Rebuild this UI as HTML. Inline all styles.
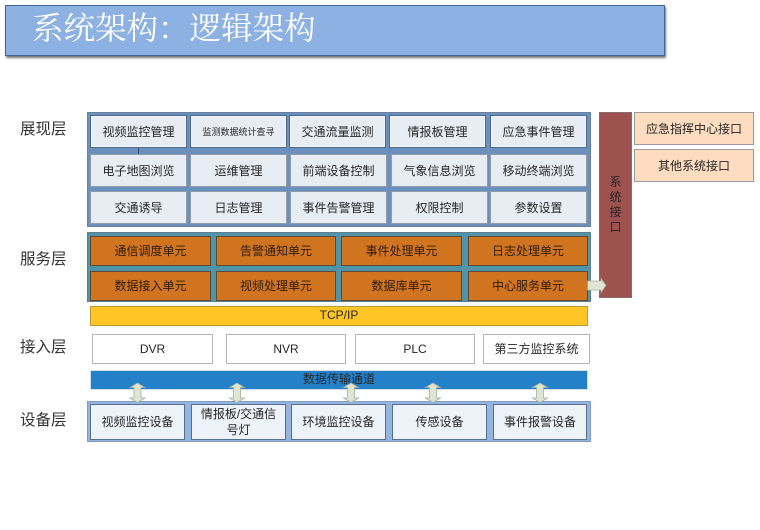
<!DOCTYPE html>
<html lang="zh">
<head>
<meta charset="utf-8">
<style>
html,body{margin:0;padding:0;background:#fff}
#p{position:relative;width:760px;height:530px;overflow:hidden;background:#fff;font-family:"Liberation Sans","Noto Sans CJK SC",sans-serif;color:#262626;filter:blur(.35px)}
#p div{position:absolute;box-sizing:border-box;display:flex;align-items:center;justify-content:center;text-align:center;font-size:12px;line-height:16px}
.c{background:#e8edf4;border:1px solid #4d6b8e;box-shadow:inset 0 0 0 1px #f1f4f8}
.g{background:#e8edf4;border:1px solid #8f9caa}
.o{background:#d17420;border:1px solid #5d4a30;color:#2c1c0c}
.w{background:#fff;border:1px solid #b5b5b5}
.d{background:#eef2f9;border:1px solid #55708f}
.r{background:#fddcc0;border:1px solid #999}
#p .l{font-size:15.500px;color:#333;justify-content:flex-start;white-space:nowrap}
</style>
</head>
<body>
<div id="p">
<div style="left:5px;top:5px;width:660px;height:51px;background:#8db1e2;border:1px solid #3f6594;box-shadow:1px 2px 2px #777;justify-content:flex-start;padding-left:26px;padding-bottom:3px;font-size:31.500px;line-height:40px;color:#fff;font-family:'Liberation Serif','Noto Serif CJK SC',serif;white-space:nowrap">系统架构：逻辑架构</div>

<div class="l" style="left:20px;top:120px;width:60px;height:20px">展现层</div>
<div class="l" style="left:20px;top:250px;width:60px;height:20px">服务层</div>
<div class="l" style="left:20px;top:338px;width:60px;height:20px">接入层</div>
<div class="l" style="left:20px;top:411px;width:60px;height:20px">设备层</div>

<div style="left:87px;top:112px;width:504px;height:115px;background:#6b90bd;border:1px solid #6b7f99"></div>
<div style="left:138px;top:147px;width:1px;height:7px;background:#3f4f66"></div>
<div class="c" style="left:90px;top:115px;width:97px;height:33px">视频监控管理</div>
<div class="c" style="left:190px;top:115px;width:97px;height:33px;font-size:9px">监测数据统计查寻</div>
<div class="c" style="left:289px;top:115px;width:97px;height:33px">交通流量监测</div>
<div class="c" style="left:389px;top:115px;width:97px;height:33px">情报板管理</div>
<div class="c" style="left:490px;top:115px;width:97px;height:33px">应急事件管理</div>

<div class="g" style="left:90px;top:154px;width:97px;height:33px">电子地图浏览</div>
<div class="g" style="left:190px;top:154px;width:97px;height:33px">运维管理</div>
<div class="g" style="left:290px;top:154px;width:97px;height:33px">前端设备控制</div>
<div class="g" style="left:391px;top:154px;width:97px;height:33px">气象信息浏览</div>
<div class="g" style="left:490px;top:154px;width:97px;height:33px">移动终端浏览</div>

<div class="g" style="left:90px;top:191px;width:97px;height:33px">交通诱导</div>
<div class="g" style="left:190px;top:191px;width:97px;height:33px">日志管理</div>
<div class="g" style="left:290px;top:191px;width:97px;height:33px">事件告警管理</div>
<div class="g" style="left:391px;top:191px;width:97px;height:33px">权限控制</div>
<div class="g" style="left:490px;top:191px;width:97px;height:33px">参数设置</div>

<div style="left:87px;top:232px;width:504px;height:70px;background:#4f94a8;border:1px solid #5f7f8a"></div>
<div class="o" style="left:90px;top:236px;width:121px;height:30px">通信调度单元</div>
<div class="o" style="left:216px;top:236px;width:120px;height:30px">告警通知单元</div>
<div class="o" style="left:341px;top:236px;width:121px;height:30px">事件处理单元</div>
<div class="o" style="left:468px;top:236px;width:120px;height:30px">日志处理单元</div>
<div class="o" style="left:90px;top:271px;width:121px;height:30px">数据接入单元</div>
<div class="o" style="left:216px;top:271px;width:120px;height:30px">视频处理单元</div>
<div class="o" style="left:341px;top:271px;width:121px;height:30px">数据库单元</div>
<div class="o" style="left:468px;top:271px;width:120px;height:30px">中心服务单元</div>

<div style="left:90px;top:306px;width:498px;height:20px;background:#fec524;border:1px solid #b99a3a;padding-bottom:2px">TCP/IP</div>

<div class="w" style="left:92px;top:334px;width:121px;height:30px">DVR</div>
<div class="w" style="left:226px;top:334px;width:120px;height:30px">NVR</div>
<div class="w" style="left:355px;top:334px;width:120px;height:30px">PLC</div>
<div class="w" style="left:483px;top:334px;width:107px;height:30px">第三方监控系统</div>

<div style="left:90px;top:370px;width:498px;height:20px;background:#2480c8;border:1px solid #d5dfe8;padding-bottom:2px">数据传输通道</div>

<div style="left:87px;top:401px;width:504px;height:41px;background:#94b5e0;border:1px solid #7f9cc2"></div>
<div class="d" style="left:90px;top:404px;width:95px;height:36px">视频监控设备</div>
<div class="d" style="left:191px;top:404px;width:95px;height:36px">情报板/交通信<br>号灯</div>
<div class="d" style="left:291px;top:404px;width:95px;height:36px">环境监控设备</div>
<div class="d" style="left:392px;top:404px;width:95px;height:36px">传感设备</div>
<div class="d" style="left:493px;top:404px;width:94px;height:36px">事件报警设备</div>

<div style="left:599px;top:112px;width:33px;height:186px;background:#9e5250;border:1px solid #8a6a68;font-size:12px;line-height:15px">系<br>统<br>接<br>口</div>
<div class="r" style="left:634px;top:112px;width:120px;height:33px">应急指挥中心接口</div>
<div class="r" style="left:634px;top:149px;width:120px;height:33px">其他系统接口</div>

<svg style="position:absolute;left:0;top:0" width="760" height="530" viewBox="0 0 760 530">
<g fill="#dfe5d3" stroke="#a9ae9e" stroke-width=".8">
<path d="M587.500 281H601V278.500L606 285.500L601 292.500V290H587.500Z"/>
<path d="M137.500 383L145 387.500H141V398H145L137.500 402.500L130 398H134V387.500H130Z"/>
<path d="M237 383L244.500 387.500H240.500V398H244.500L237 402.500L229.500 398H233.500V387.500H229.500Z"/>
<path d="M351 383L358.500 387.500H354.500V398H358.500L351 402.500L343.500 398H347.500V387.500H343.500Z"/>
<path d="M433 383L440.500 387.500H436.500V398H440.500L433 402.500L425.500 398H429.500V387.500H425.500Z"/>
<path d="M540 383L547.500 387.500H543.500V398H547.500L540 402.500L532.500 398H536.500V387.500H532.500Z"/>
</g>
</svg>
</div>
</body>
</html>
